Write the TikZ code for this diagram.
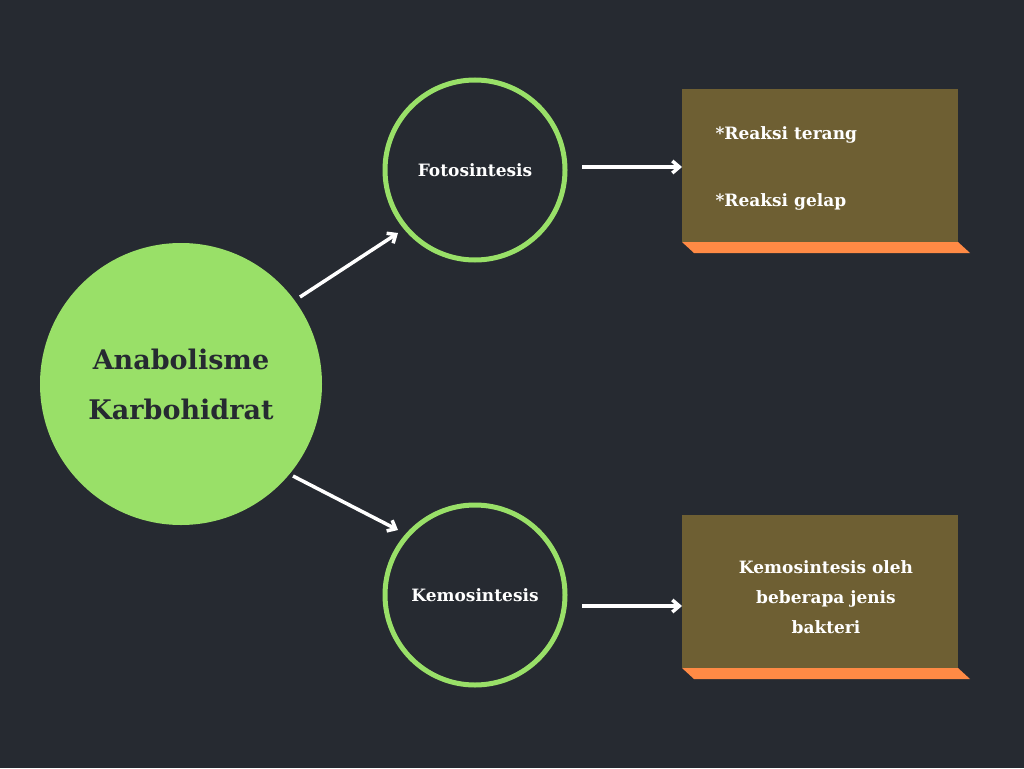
\documentclass[tikz,border=0pt]{standalone}
\usepackage{fontspec}
\setmainfont{DejaVu Serif}
\usetikzlibrary{arrows.meta}
\definecolor{bg}{HTML}{262A31}
\definecolor{lg}{HTML}{99E068}
\definecolor{bx}{HTML}{6E5F33}
\definecolor{org}{HTML}{FF8A45}
\begin{document}
\begin{tikzpicture}[x=1pt,y=-1pt,
  arr/.style={draw=white,line width=3.5pt,-{Straight Barb[length=7pt,width=12pt]}},
  ring/.style={circle,draw=lg,line width=5pt,minimum size=180pt,inner sep=0pt,text=white,font=\bfseries\fontsize{17}{20}\selectfont},
  boxtxt/.style={text=white,font=\bfseries\fontsize{17}{30}\selectfont,align=center}]
\fill[bg] (0,0) rectangle (1024,768);
\useasboundingbox (0,0) rectangle (1024,768);
\node[circle,fill=lg,minimum size=282pt,inner sep=0pt,text=bg,align=center,
  font=\bfseries\fontsize{27}{50}\selectfont] (ana) at (181,384) {Anabolisme\\Karbohidrat};
\node[ring] (foto) at (475,170) {Fotosintesis};
\node[ring] (kemo) at (475,595) {Kemosintesis};
% boxes
\fill[org] (682,242) -- (958,242) -- (970,253) -- (694,253) -- cycle;
\fill[bx] (682,89) rectangle (958,242);
\fill[org] (682,668) -- (958,668) -- (970,679) -- (694,679) -- cycle;
\fill[bx] (682,515) rectangle (958,668);
\node[boxtxt,anchor=west] (b1) at (712,135) {*Reaksi terang};
\node[boxtxt,anchor=west] (b2) at (712,202) {*Reaksi gelap};
\node[boxtxt,font=\bfseries\fontsize{17}{36}\selectfont] (b3) at (826,597) {Kemosintesis oleh\\[-6pt]beberapa jenis\\[-6pt]bakteri};
\coordinate (t1) at (682,167);
\coordinate (t2) at (682,606);
\draw[arr] (300,297) -- (398,233);
\draw[arr] (293,476) -- (398,530);
\draw[arr] (582,167) -- (t1);
\draw[arr] (582,606) -- (t2);
\end{tikzpicture}
\end{document}
